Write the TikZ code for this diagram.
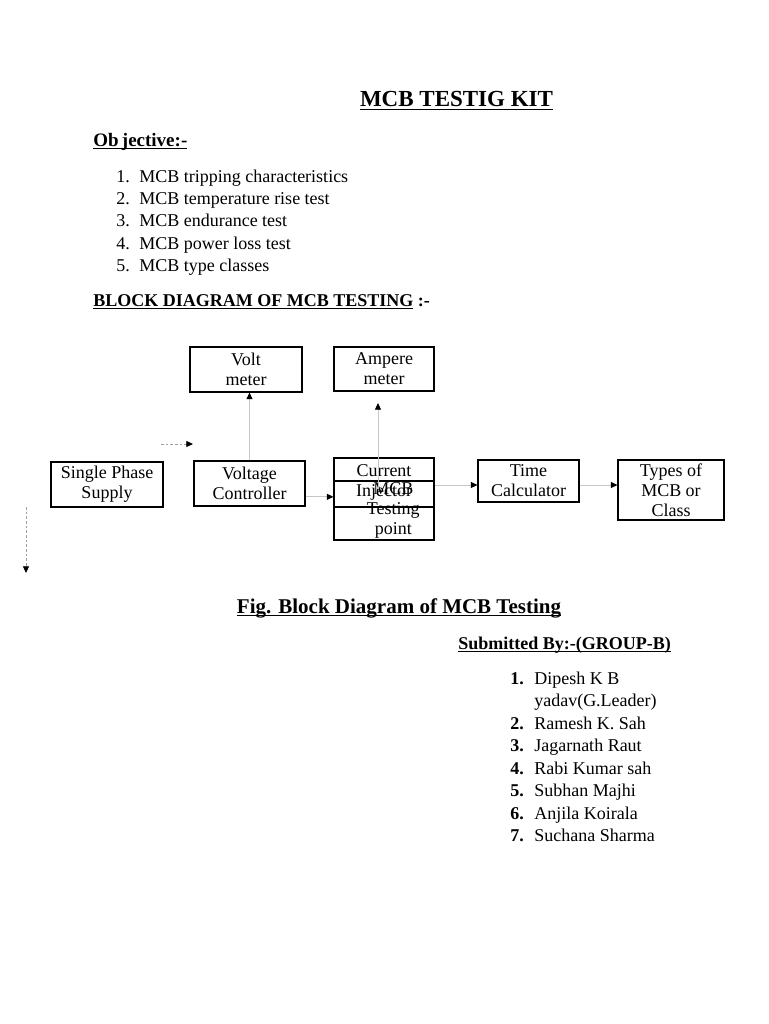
\documentclass[tikz,border=0pt]{standalone}
\usepackage{fontspec}
\setmainfont{Liberation Serif}
\usetikzlibrary{arrows.meta}

\newcommand{\bodysize}{\fontsize{13.5pt}{15pt}\selectfont}
\newcommand{\ultext}[1]{\underline{\smash{#1}}}

\begin{document}
\begin{tikzpicture}[x=0.75pt, y=-0.75pt, every node/.style={font=\bodysize, inner sep=0pt},
    blockbox/.style={draw, line width=0.8pt, align=center, inner sep=0pt},
    link/.style={draw=gray!45, line width=0.6pt, -{Triangle[black, length=5pt, width=4.5pt]}},
    dashlink/.style={link, draw=gray!75, dash pattern=on 2pt off 1.5pt}]
    \useasboundingbox (0,0) rectangle (768,1024);

    % headings
    \node[anchor=base] (title) at (456.5,107) {\fontsize{17.25pt}{20pt}\selectfont\bfseries\ultext{MCB TESTIG KIT}};
    \node[anchor=base west] (objective) at (93,146) {\fontsize{14.25pt}{16pt}\selectfont\bfseries\ultext{Ob\kern2.5pt jective:-}};
    \foreach \txt [count=\i] in {MCB tripping characteristics, MCB temperature rise test,
        MCB endurance test, MCB power loss test, MCB type classes} {
        \node[anchor=base west] (objn\i) at (116,{182+22.4*(\i-1)}) {\i.};
        \node[anchor=base west] (obj\i) at (139,{182+22.4*(\i-1)}) {\txt};
    }
    \node[anchor=base west] (blockhead) at (93,306) {\bfseries\ultext{BLOCK DIAGRAM OF MCB TESTING} :-};

    % blocks
    \node[blockbox, minimum width=84pt, minimum height=33.75pt] (supply) at (107,484.5) {Single Phase\\Supply};
    \node[blockbox, minimum width=83.25pt, minimum height=33.75pt] (vc) at (249.5,483.5) {Voltage\\Controller};
    \node[blockbox, minimum width=84pt, minimum height=33.75pt] (volt) at (246,369.5) {Volt\\meter};
    \node[blockbox, minimum width=75pt, minimum height=33pt] (amp) at (384,369) {Ampere\\meter};
    \node[blockbox, minimum width=75pt, minimum height=36.75pt] (cur) at (384,482.5) {Current\\Injector};
    \node[blockbox, minimum width=75pt, minimum height=44.25pt,
        label={[align=center, xshift=7pt]center:{MCB\\Testing\\point}}] (mcb) at (384,510.5) {};
    \node[blockbox, minimum width=75.75pt, minimum height=31.5pt] (time) at (528.5,481) {Time\\Calculator};
    \node[blockbox, minimum width=79.5pt, minimum height=45pt] (types) at (671,490) {Types of\\MCB or\\Class};

    \coordinate (ampfoot) at (378,489);
    \coordinate (amptip) at (378,403);
    \coordinate (dashA) at (161,444);
    \coordinate (dashB) at (193,444);
    \coordinate (dashC) at (26,507);
    \coordinate (dashD) at (26,573);

    % connectors
    \draw[link] (vc.north) -- (vc.north |- volt.south);
    \draw[link] (ampfoot) -- (amptip);
    \draw[link] ([yshift=-10pt]vc.east) -- ([yshift=-10pt]vc.east -| mcb.west);
    \draw[link] ([yshift=-3pt]time.west -| cur.east) -- ([yshift=-3pt]time.west);
    \draw[link] ([yshift=-3pt]time.east) -- ([yshift=-3pt]time.east -| types.west);
    \draw[dashlink] (dashA) -- (dashB);
    \draw[dashlink] (dashC) -- (dashD);

    % caption and group
    \node[anchor=base] (caption) at (399,613) {\fontsize{15.75pt}{18pt}\selectfont\bfseries\ultext{Fig. Block Diagram of MCB Testing}};
    \node[anchor=base west] (group) at (458,649) {\bfseries\ultext{Submitted By:-(GROUP-B)}};
    \node[anchor=base west] (mem1n) at (510,684) {\bfseries 1.};
    \node[anchor=base west] (mem1) at (534,684) {Dipesh K B};
    \node[anchor=base west] (mem1b) at (534,706.5) {yadav(G.Leader)};
    \foreach \name [count=\i from 2] in {Ramesh K. Sah, Jagarnath Raut, Rabi Kumar sah,
        Subhan Majhi, Anjila Koirala, Suchana Sharma} {
        \node[anchor=base west] (mem\i n) at (510,{684+22.5*(\i-1)+22.5}) {\bfseries\i.};
        \node[anchor=base west] (mem\i) at (534,{684+22.5*(\i-1)+22.5}) {\name};
    }
\end{tikzpicture}
\end{document}
